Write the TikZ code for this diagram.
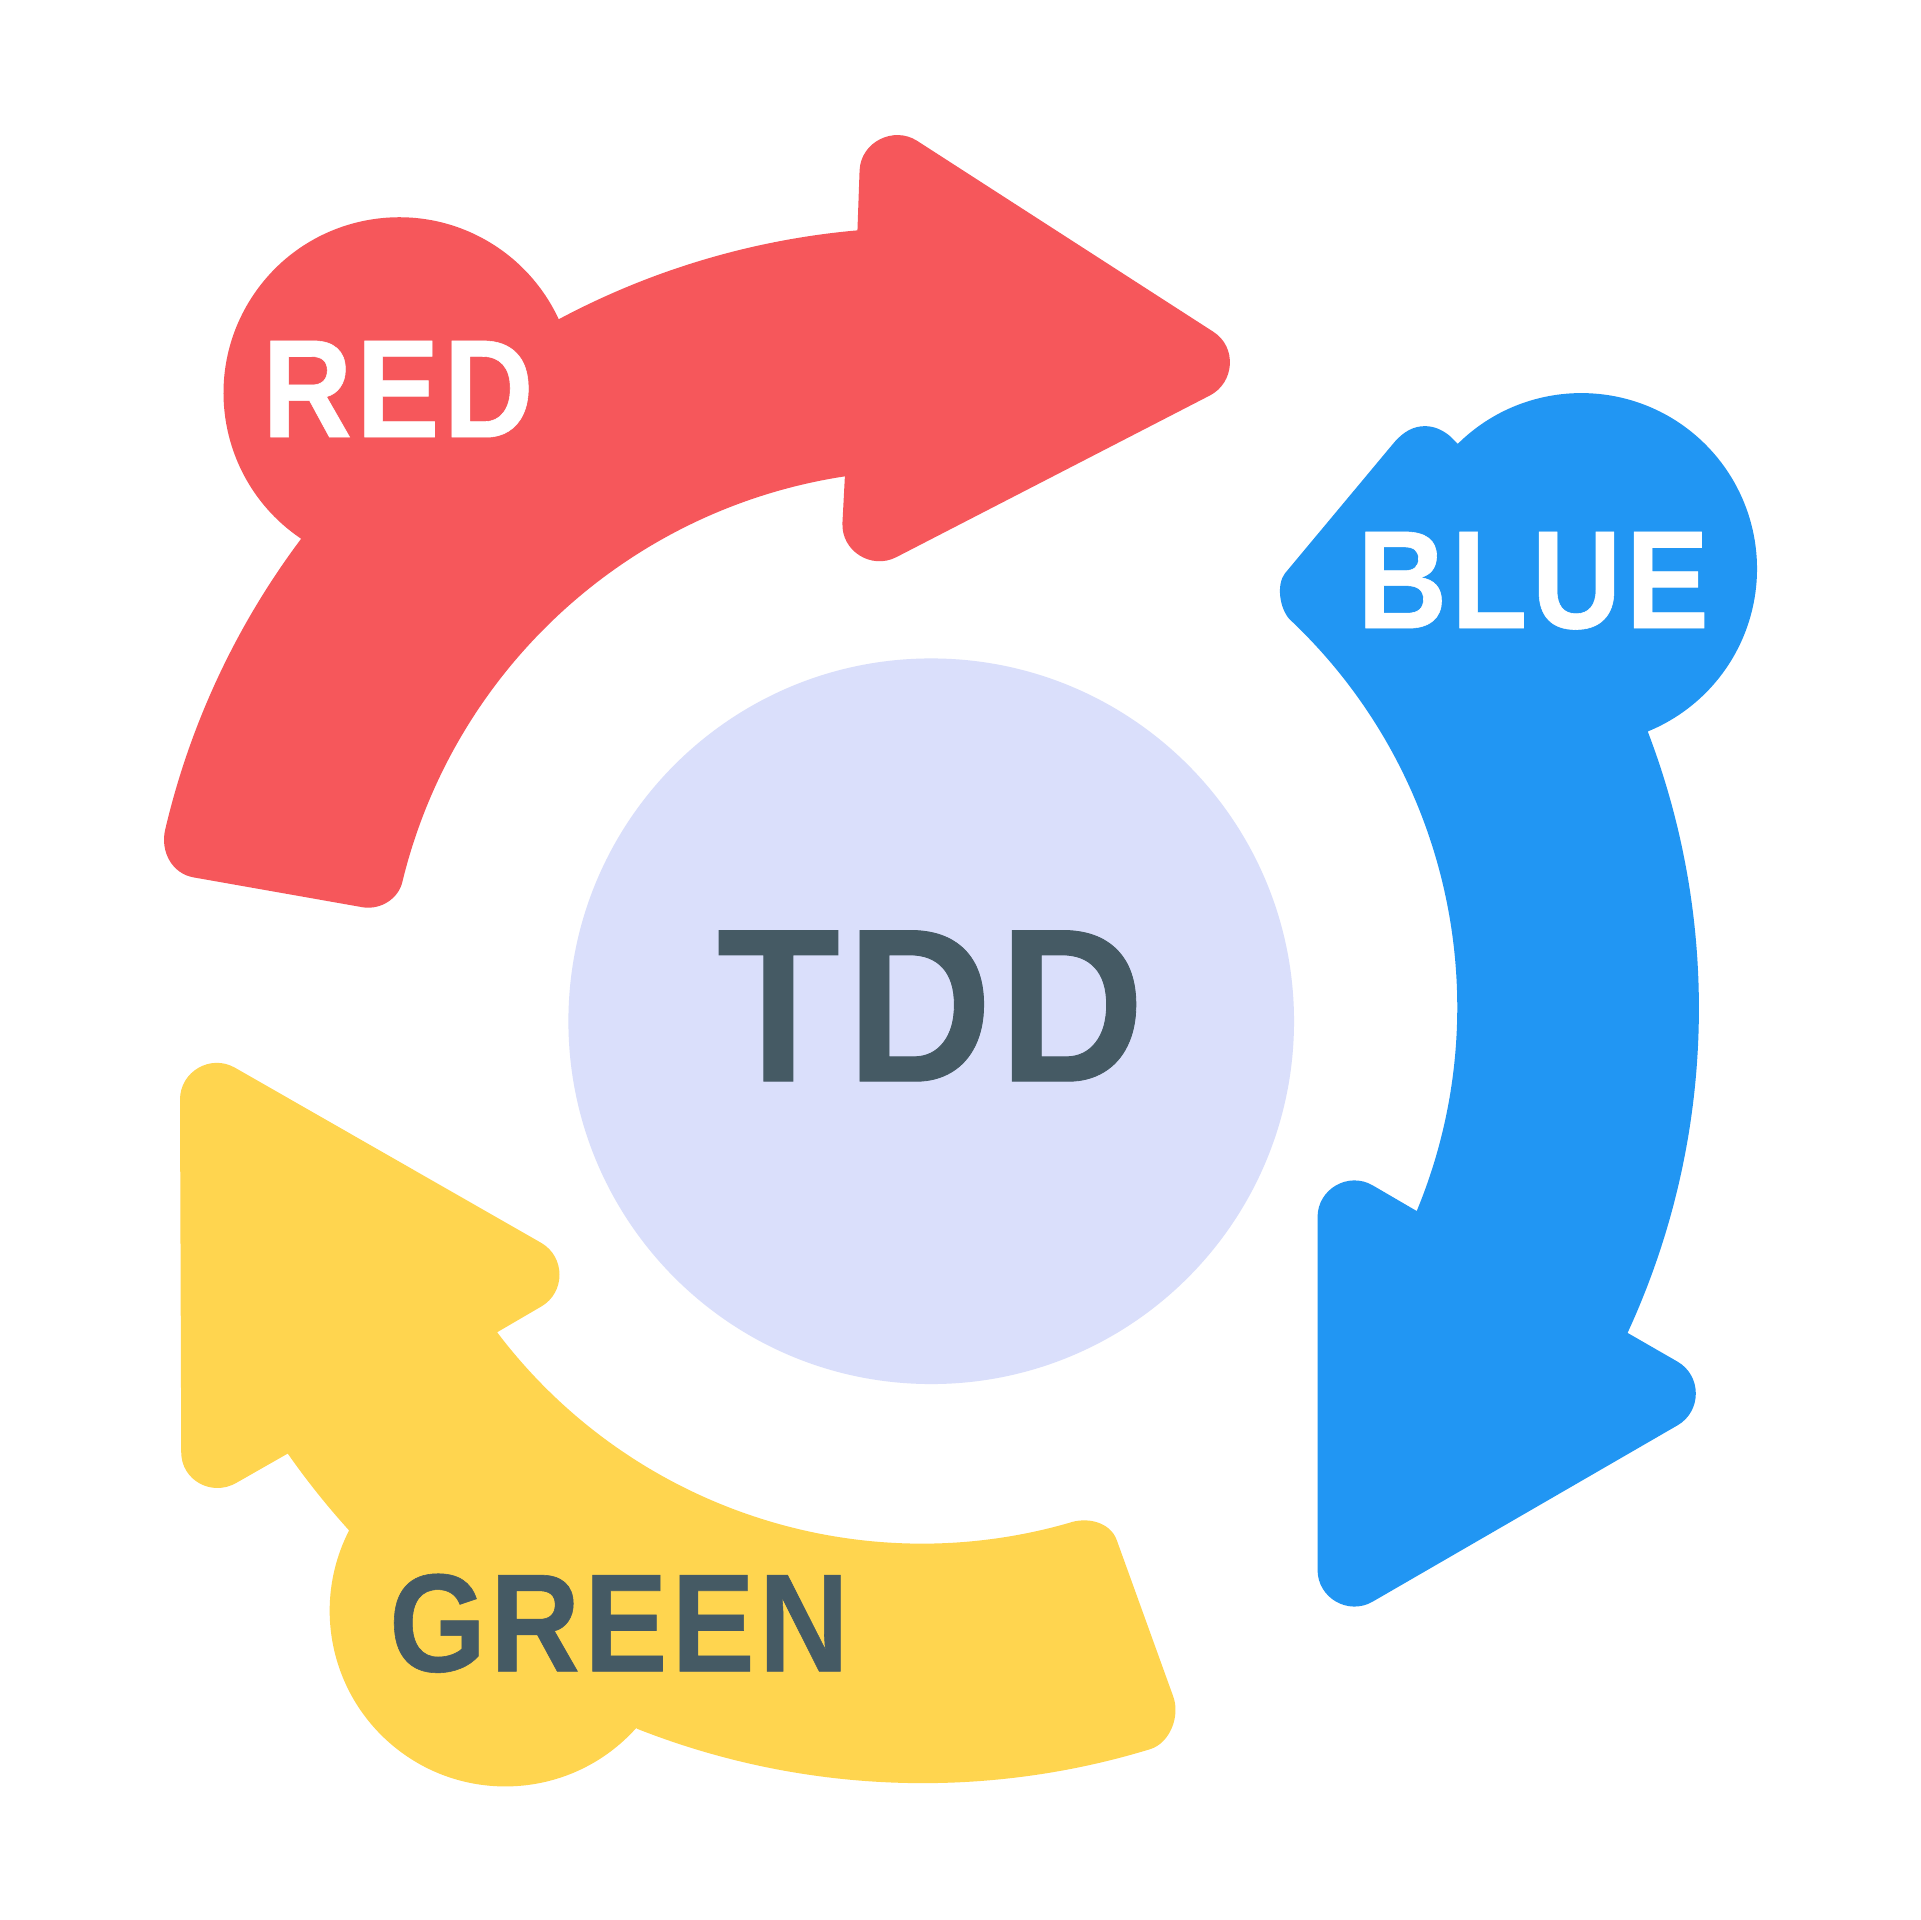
\documentclass[tikz,border=0pt]{standalone}
\usepackage{fontspec}
\setmainfont{Liberation Sans}
\newfontfamily\lblsmall[FakeStretch=0.89,LetterSpace=3,BoldFeatures={FakeBold=0.4}]{Liberation Sans}
\newfontfamily\lblbig[FakeStretch=0.92,LetterSpace=3,BoldFeatures={FakeBold=0.4}]{Liberation Sans}
\definecolor{cred}{HTML}{F6575B}
\definecolor{cblue}{HTML}{2196F3}
\definecolor{cyellow}{HTML}{FFD54F}
\definecolor{cink}{HTML}{455A64}
\definecolor{clav}{HTML}{DADFFB}
\tikzset{
  small label/.style={anchor=base,inner sep=0pt,font=\lblsmall\bfseries\fontsize{32.5}{36}\selectfont},
  big label/.style={anchor=base,inner sep=0pt,text=cink,font=\lblbig\bfseries\fontsize{50.9}{56}\selectfont}
}
\begin{document}
\begin{tikzpicture}[x=0.01cm,y=-0.01cm]
\fill[white] (0,0) rectangle (1568,1568);
\useasboundingbox (0,0) rectangle (1568,1568);
\begin{scope}[shift={(1,1)}]
% centre disc
\fill[clav] (759.5,833) circle[radius=296.3];
% red
\fill[cred] (245,439) arc[start angle=123.9,end angle=335.2,radius=143.5]
  arc[start angle=-118.1,end angle=-95.05,radius=637]
  -- (701,138) .. controls (702,115) and (728.7,101.6) .. (748,114)
  -- (990,270) .. controls (1009.3,282.4) and (1007.4,311.5) .. (987,322)
  -- (731,454) .. controls (710.6,464.5) and (685.9,449) .. (687,426)
  -- (689,388) arc[start angle=-98.65,end angle=-166.4,radius=440]
  .. controls (324.2,733) and (310,742) .. (295.7,740)
  -- (157,715.5) .. controls (139.5,712.4) and (129.9,694.4) .. (133.8,677)
  arc[start angle=-166.86,end angle=-143.1,radius=637.5] -- cycle;
% blue
\fill[cblue] (1189.5,361.5) arc[start angle=-134.7,end angle=67.8,radius=143.5]
  arc[start angle=-20.96,end angle=24.8,radius=632]
  -- (1369,1111) .. controls (1388.9,1122.5) and (1388.9,1151.5) .. (1369,1163)
  -- (1120,1307) .. controls (1100.1,1318.5) and (1075,1304) .. (1075,1281)
  -- (1075,993) .. controls (1075,970) and (1100.1,955.5) .. (1120,967)
  -- (1156,988) arc[start angle=22.5,end angle=-46.8,radius=435]
  .. controls (1043.7,495) and (1041.5,476) .. (1048.4,467.2)
  -- (1137,361) .. controls (1145.2,351.2) and (1153.5,347) .. (1162.8,347)
  .. controls (1170,347) and (1177,350) .. (1183,355) -- cycle;
% yellow
\fill[cyellow] (519.2,1409.5) arc[start angle=41.5,end angle=207.2,radius=143.5]
  arc[start angle=137.8,end angle=145.04,radius=636]
  -- (192,1210) .. controls (172.1,1221.5) and (147,1208) .. (147,1185)
  -- (146,897) .. controls (146,874) and (171.1,859.5) .. (191,871)
  -- (441,1014) .. controls (460.9,1025.5) and (460.9,1054.5) .. (441,1066)
  -- (405,1087) arc[start angle=142.9,end angle=74,radius=435]
  .. controls (886.5,1237.5) and (905.6,1241.8) .. (911,1256.7)
  -- (957.2,1384.6) .. controls (963,1400.6) and (954.4,1422.6) .. (938.2,1427.5)
  arc[start angle=73,end angle=111.6,radius=635] -- cycle;
% labels
\node[small label,text=white] (red) at (324,356) {RED};
\node[small label,text=white] (blue) at (1251,512) {BLUE};
\node[small label,text=cink] (green) at (504.5,1364) {GREEN};
\node[big label] (tdd) at (759,882) {TDD};
\end{scope}
\end{tikzpicture}
\end{document}
